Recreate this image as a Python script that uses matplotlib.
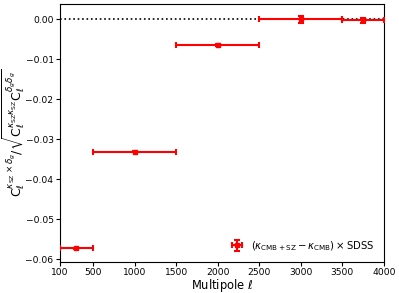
import numpy as np
import matplotlib
matplotlib.use("Agg")
import matplotlib.pyplot as plt

# bins in multipole
ell_lo = np.array([100, 500, 1500, 2500, 3500])
ell_hi = np.array([500, 1500, 2500, 3500, 4000])
ell_c = np.array([300, 1000, 2000, 3000, 3750])
ratio = np.array([-0.0573, -0.0331, -0.0065, 0.0000, -0.0003])
ratio_err = np.array([0.0002, 0.0002, 0.0003, 0.0009, 0.0007])

xerr = np.vstack([ell_c - ell_lo, ell_hi - ell_c])

fig = plt.figure(figsize=(3.99, 2.93), dpi=100)
ax = fig.add_axes([0.150, 0.106, 0.812, 0.880])

ax.axhline(0, color="k", ls=":", lw=1.2, zorder=1)
ax.errorbar(ell_c, ratio, xerr=xerr, yerr=ratio_err, fmt="s", color="red",
            ms=3, elinewidth=1.5, capsize=2, capthick=1.5, zorder=3,
            label=r"$(\kappa_{\rm CMB+SZ}-\kappa_{\rm CMB})\times{\rm SDSS}$")

ax.set_xlim(100, 4000)
ax.set_ylim(-0.0607, 0.0038)
ax.set_xticks([100, 500, 1000, 1500, 2000, 2500, 3000, 3500, 4000])
ax.set_yticks([0.0, -0.01, -0.02, -0.03, -0.04, -0.05, -0.06])
ax.set_yticklabels(["0.00", "\u22120.01", "\u22120.02", "\u22120.03", "\u22120.04", "\u22120.05", "\u22120.06"])
ax.tick_params(labelsize=6.6, length=3, pad=1.5)

ax.set_xlabel(r"Multipole $\ell$", fontsize=8.3, labelpad=0)
ax.set_ylabel(r"$\mathrm{C}_\ell^{\kappa_\mathrm{SZ}\times\delta_g}/\sqrt{\mathrm{C}_\ell^{\kappa_\mathrm{SZ}\kappa_\mathrm{SZ}}\mathrm{C}_\ell^{\delta_g\delta_g}}$",
              fontsize=9)
ax.yaxis.set_label_coords(-0.10, 0.5)

ax.legend(loc="lower right", frameon=False, fontsize=7.3, handlelength=1.2)

fig.savefig("out.png", dpi=100)
